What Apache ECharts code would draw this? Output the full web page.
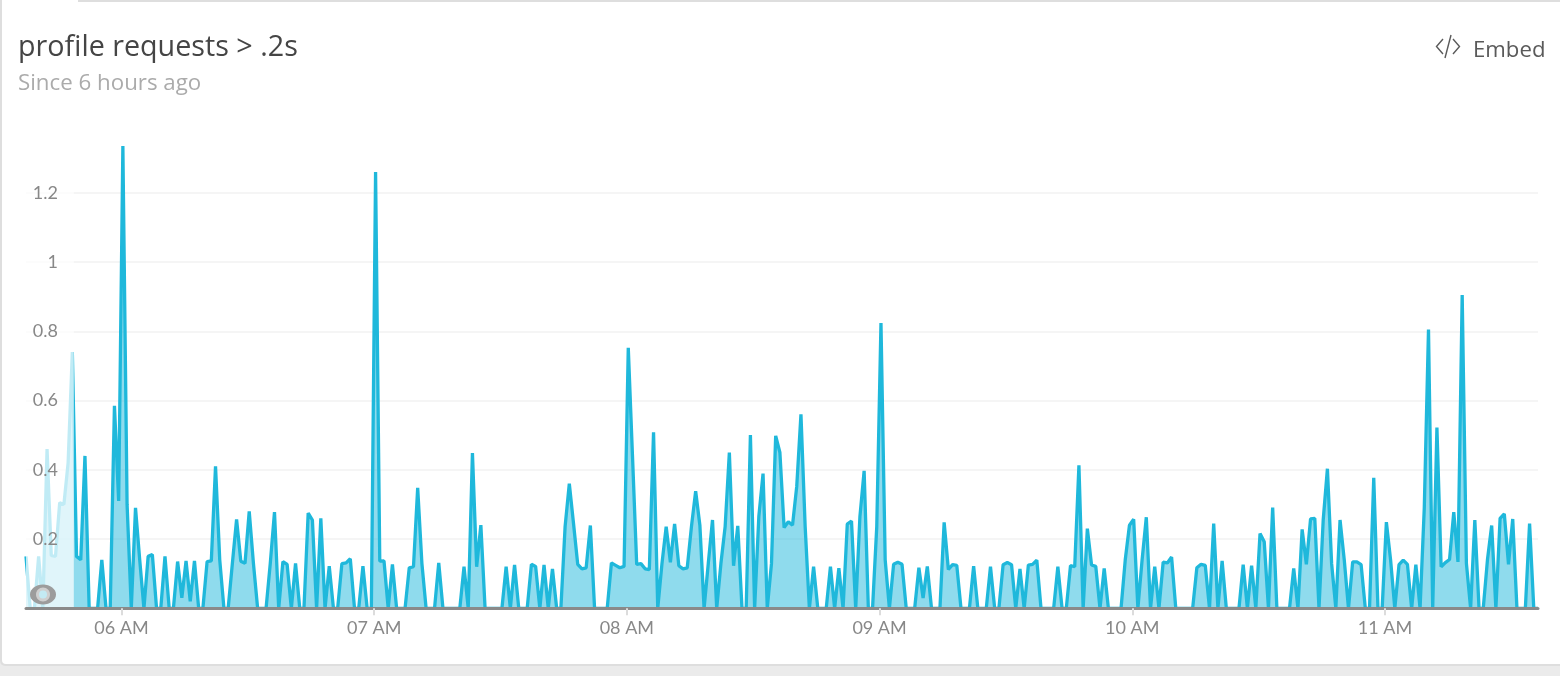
<!DOCTYPE html>
<html>
<head>
<meta charset="utf-8">
<style>html,body{margin:0;padding:0;background:#ebebeb}#c{width:1560px;height:676px}</style>
<script src="https://cdn.jsdelivr.net/npm/echarts@6/dist/echarts.min.js"></script>
</head>
<body>
<div id="c"></div>
<script>
const titleText = 'profile requests > .2s';
const subtitleText = 'Since 6 hours ago';
const embedText = 'Embed';
const yTicks = [0, 0.2, 0.4, 0.6, 0.8, 1, 1.2];
const hourLabels = {6:'06 AM',7:'07 AM',8:'08 AM',9:'09 AM',10:'10 AM',11:'11 AM'};
const requestValues = [
.15,0,0,.15,0,.46,.153,.15,.305,.30,
.42,.74,.15,.14,.44,0,0,0,.14,0,
0,.585,.31,1.335,.3,0,.29,.14,0,.15,
.155,0,0,.15,0,0,.135,.03,.137,.02,
.137,0,0,.135,.137,.41,.14,0,0,.13,
.257,.136,.13,.28,.13,0,0,0,.13,.278,
0,.135,.127,0,.13,0,0,.275,.255,0,
.26,0,.122,0,0,.129,.131,.143,0,0,
.122,0,0,1.26,.136,.137,0,.127,0,0,
0,.117,.12,.348,.13,0,0,0,.131,0,
0,0,0,0,.12,0,.448,.12,.24,0,
0,0,0,0,.12,0,.125,0,0,0,
.127,.121,0,.125,0,.114,0,0,.236,.36,
.245,.127,.114,.117,.239,0,0,0,0,.131,
.124,.117,.121,.752,.44,.127,.129,.114,.112,.508,
0,.129,.236,.133,.244,.123,.114,.117,.236,.338,
.24,0,.13,.255,0,.13,.236,.45,.123,.238,
0,0,.5,0,.265,.389,0,.129,.498,.45,
.233,.25,.24,.352,.56,.236,0,.12,0,0,
0,.12,0,.116,0,.243,.252,0,.265,.397,
0,0,.236,.824,.14,0,.127,.133,.127,0,
0,0,.117,.03,.121,0,0,0,.248,.112,
.126,.124,0,0,0,.122,0,0,0,.12,
0,0,.126,.132,.126,0,.114,0,.125,.127,
.139,0,0,0,0,.12,0,0,.123,.12,
.413,0,.23,.125,.121,0,.115,0,0,0,
0,.14,.24,.257,0,.14,.263,0,.12,0,
.133,.131,.148,0,0,0,0,0,.117,.127,
.124,0,.245,0,.137,0,0,0,0,.126,
0,.123,0,.216,.192,0,.291,0,0,0,
0,.115,0,.228,.127,.258,.26,0,.255,.403,
.129,0,.255,.14,0,.134,.134,.126,0,0,
.377,0,0,.249,.14,0,.126,.139,.127,0,
.126,0,.29,.805,0,.522,.12,.132,.141,.278,
.134,.905,.13,0,.255,0,0,.14,.239,0,
.26,.273,.127,.258,0,0,0,.245,0,0
];
const MIN = 60000;
const startTime = new Date(2018,0,15,5,37,20).getTime();
const endTime = startTime + 359*MIN;
const fadedUntil = startTime + 11.35*MIN;
const seriesData = requestValues.map((v,i)=>[startTime+i*MIN, v]);

const chart = echarts.init(document.getElementById('c'), null, {renderer:'canvas', width:1560, height:676});
const TITLE_FONT = '"Open Sans", sans-serif';
const AXIS_FONT = 'Lato, sans-serif';
chart.setOption({
  animation:false,
  backgroundColor:'#ebebeb',
  title:[
    {text:titleText,left:18,top:33,padding:0,textStyle:{fontFamily:TITLE_FONT,fontSize:28.7,fontWeight:'normal',color:'#454545'}},
    {text:subtitleText,left:18,top:73,padding:0,textStyle:{fontFamily:TITLE_FONT,fontSize:22.3,fontWeight:'normal',color:'#ababab'}},
    {text:embedText,left:1473,top:40,padding:0,textStyle:{fontFamily:TITLE_FONT,fontSize:22.2,fontWeight:'normal',color:'#5a5a5a'}}
  ],
  grid:{left:26,right:22,top:123.5,bottom:67.7,containLabel:false},
  xAxis:{
    type:'time',min:startTime,max:endTime,
    interval:3600000,minInterval:3600000,maxInterval:3600000,
    z:20,
    axisLine:{show:true,onZero:false,lineStyle:{color:'#8a8a8a',width:3}},
    axisTick:{show:true,length:7,lineStyle:{color:'#dcdcdc',width:2}},
    splitLine:{show:false},
    axisLabel:{
      margin:11,color:'#888',fontFamily:AXIS_FONT,fontSize:18,hideOverlap:false,showMinLabel:false,showMaxLabel:false,
      formatter:(val)=>hourLabels[new Date(val).getHours()]||''
    }
  },
  yAxis:[
    {
      type:'value',min:0,max:1.4,interval:0.2,z:0,
      axisLine:{show:false},axisTick:{show:false},axisLabel:{show:false},
      splitLine:{show:true,showMinLine:false,showMaxLine:false,lineStyle:{color:'#f5f5f5',width:2}}
    },
    {
      type:'value',position:'left',min:0,max:1.4,interval:0.2,z:20,
      axisLine:{show:false},axisTick:{show:false},splitLine:{show:false},
      axisLabel:{
        inside:true,margin:32,align:'right',color:'#888',fontFamily:AXIS_FONT,fontSize:18,
        showMinLabel:false,showMaxLabel:false,
        formatter:(v)=>yTicks.includes(+v.toFixed(1))?String(+v.toFixed(1)):''
      }
    }
  ],
  series:[
    {
      name:titleText,type:'line',data:seriesData,showSymbol:false,symbol:'none',z:3,
      lineStyle:{color:'#1fb8db',width:3.3,join:'bevel'},
      areaStyle:{color:'#1fb8db',opacity:0.5},
      silent:true
    },
    {
      name:'fade',type:'line',data:[],z:10,silent:true,
      markArea:{silent:true,z:10,itemStyle:{color:'rgba(255,255,255,0.72)'},
        data:[[{xAxis:startTime},{xAxis:fadedUntil}]]}
    }
  ],
  graphic:[
    {type:'rect',z:-100,silent:true,shape:{x:2,y:0,width:1560,height:664,r:[0,0,0,4]},style:{fill:'#fff'}},
    {type:'rect',z:-101,silent:true,shape:{x:0,y:0,width:1562,height:666,r:[0,0,0,5]},style:{fill:'#dedede'}},
    {type:'rect',z:-99,silent:true,shape:{x:2,y:0,width:76,height:2},style:{fill:'#fff'}},
    {type:'rect',z:-99,silent:true,shape:{x:78,y:0,width:1482,height:2},style:{fill:'#dedede'}},
    {type:'polyline',z:50,silent:true,shape:{points:[[1443,39],[1436.5,46.5],[1443,54]]},style:{stroke:'#5a5a5a',lineWidth:1.4,fill:null}},
    {type:'polyline',z:50,silent:true,shape:{points:[[1453,39],[1459.5,46.5],[1453,54]]},style:{stroke:'#5a5a5a',lineWidth:1.4,fill:null}},
    {type:'line',z:50,silent:true,shape:{x1:1451,y1:35,x2:1445,y2:58},style:{stroke:'#5a5a5a',lineWidth:1.4}},
    {type:'ellipse',z:60,silent:true,shape:{cx:43,cy:594.5,rx:13,ry:10},style:{fill:'#9c9c9c'}},
    {type:'ellipse',z:61,silent:true,shape:{cx:43,cy:594.5,rx:7,ry:7},style:{fill:'#cfcfcf'}},
    {type:'circle',z:62,silent:true,shape:{cx:43,cy:594.5,r:4},style:{fill:'#c3eaf3'}}
  ]
});
</script>
</body>
</html>
